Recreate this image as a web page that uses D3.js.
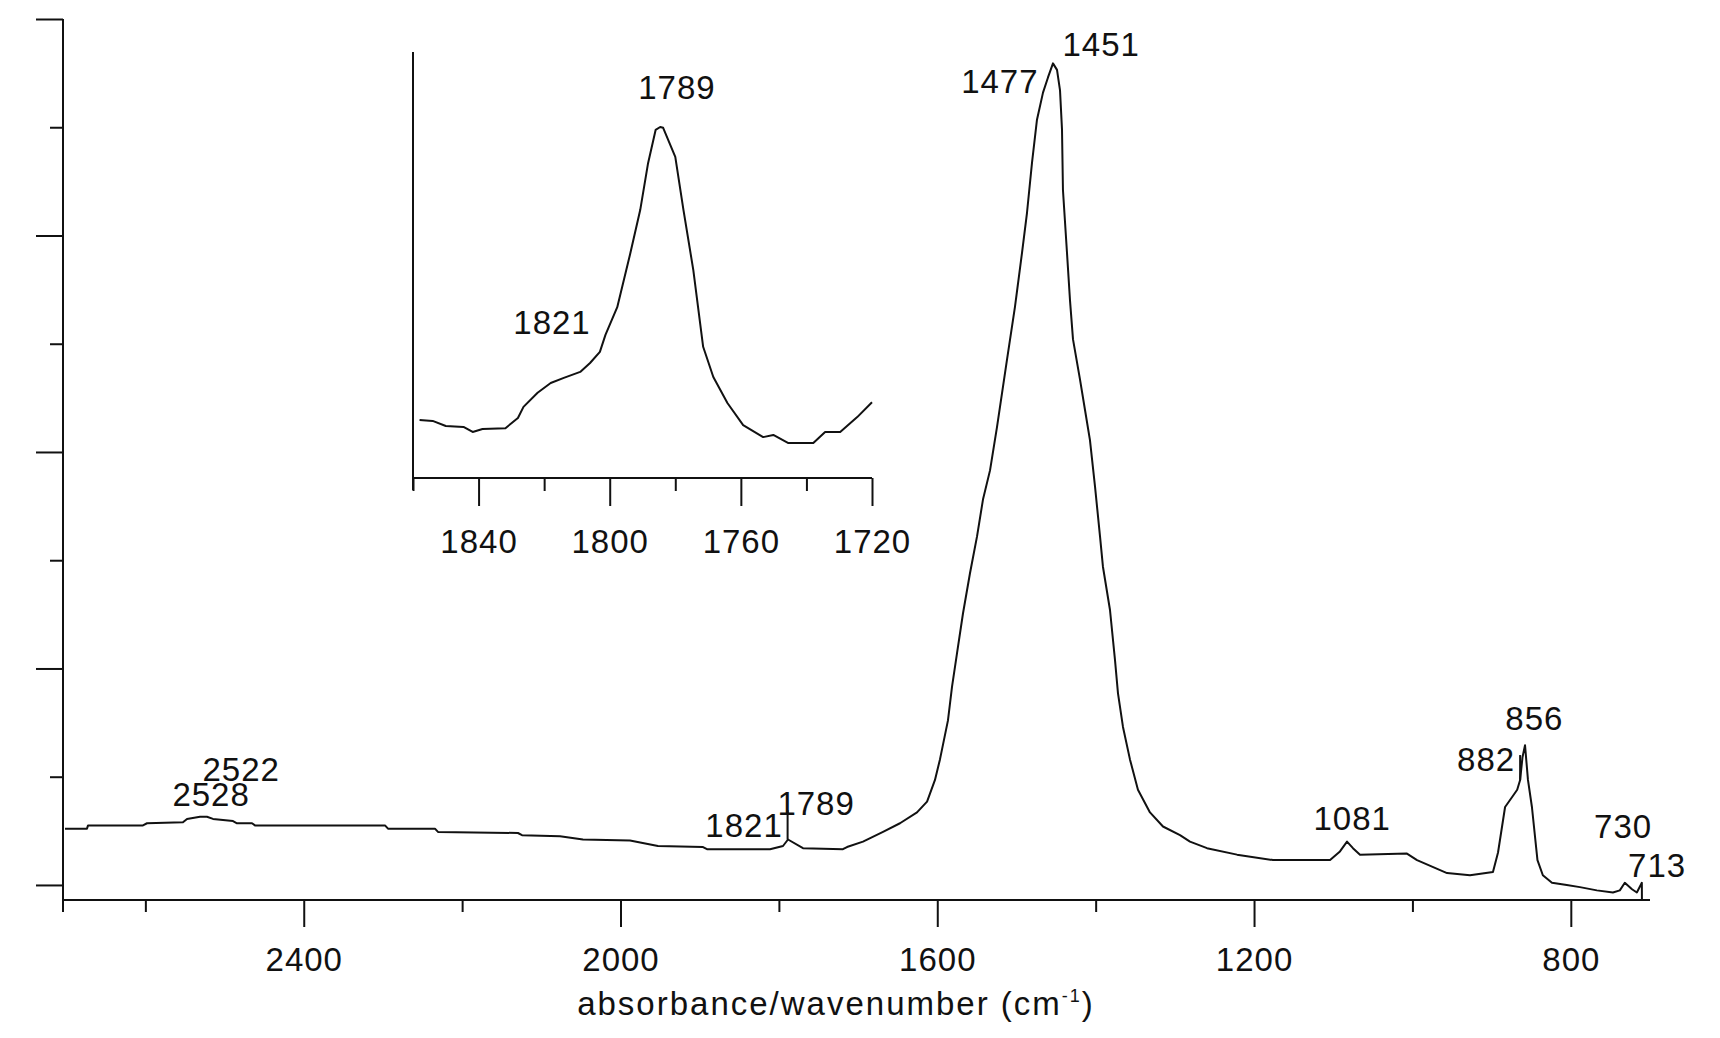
<!DOCTYPE html>
<html>
<head>
<meta charset="utf-8">
<script src="https://cdn.jsdelivr.net/npm/d3@7"></script>
<style>
  body { margin: 0; background: #fff; }
  text { font-family: "Liberation Sans", Arial, sans-serif; fill: #111; }
</style>
</head>
<body>
<script>
// main spectrum: wavenumber (cm-1) / absorbance (arb. units)
const wavenumber = [2701.5, 2673.7, 2672.4, 2603.0, 2597.9, 2552.5, 2547.4, 2531.0, 2522.2, 2514.6,
  2489.3, 2484.3, 2465.3, 2461.6, 2297.4, 2293.6, 2234.3, 2230.5, 2129.5, 2124.4,
  2076.4, 2047.4, 1988.0, 1952.7, 1895.8, 1890.8, 1811.2, 1794.8, 1788.5, 1769.6,
  1719.1, 1714.0, 1693.8, 1668.5, 1647.1, 1625.6, 1612.9, 1602.9, 1596.6, 1586.5,
  1581.4, 1575.1, 1567.5, 1558.7, 1549.8, 1542.3, 1533.4, 1524.6, 1512.0, 1501.9,
  1493.0, 1486.7, 1480.4, 1474.1, 1466.5, 1460.2, 1453.9, 1448.8, 1445.0, 1442.5,
  1441.3, 1436.2, 1432.4, 1428.6, 1419.8, 1413.5, 1407.2, 1400.8, 1394.5, 1390.8,
  1381.9, 1375.6, 1371.8, 1365.5, 1356.7, 1346.6, 1331.4, 1315.0, 1293.5, 1280.9,
  1259.4, 1221.5, 1176.1, 1104.0, 1091.5, 1082.6, 1075.1, 1066.2, 1006.9, 994.2,
  956.3, 927.3, 898.3, 891.9, 883.0, 874.3, 867.7, 864.0, 861.0, 857.8,
  854.1, 849.1, 842.1, 835.3, 823.8, 805.1, 788.5, 767.1, 746.8, 738.1,
  731.8, 722.7, 716.6, 710.3, 710.2];
const absorbance = [0.52, 0.52, 0.55, 0.55, 0.57, 0.58, 0.61, 0.63, 0.63, 0.61,
  0.59, 0.57, 0.57, 0.55, 0.55, 0.52, 0.52, 0.49, 0.48, 0.46,
  0.45, 0.42, 0.41, 0.36, 0.35, 0.33, 0.33, 0.36, 0.42, 0.34,
  0.33, 0.35, 0.40, 0.49, 0.57, 0.67, 0.77, 0.97, 1.16, 1.52,
  1.83, 2.14, 2.51, 2.88, 3.22, 3.56, 3.83, 4.23, 4.85, 5.34,
  5.84, 6.21, 6.67, 7.07, 7.32, 7.46, 7.59, 7.53, 7.34, 6.98,
  6.42, 5.84, 5.40, 5.04, 4.67, 4.39, 4.11, 3.68, 3.22, 2.94,
  2.54, 2.08, 1.77, 1.46, 1.16, 0.88, 0.67, 0.54, 0.46, 0.40,
  0.34, 0.28, 0.23, 0.23, 0.31, 0.40, 0.34, 0.28, 0.29, 0.23,
  0.11, 0.09, 0.12, 0.30, 0.72, 0.81, 0.88, 0.97, 1.18, 1.29,
  0.97, 0.72, 0.23, 0.09, 0.02, 0.00, -0.02, -0.05, -0.07, -0.05,
  0.02, -0.04, -0.07, 0.02, -0.14];

// inset: carbonate overtone region
const insetWavenumber = [1858.0, 1854.0, 1850.0, 1844.6, 1841.8, 1838.8, 1831.8, 1828.0, 1826.3, 1822.0,
  1818.0, 1814.0, 1809.0, 1806.0, 1803.0, 1801.3, 1797.7, 1793.7, 1790.7, 1788.3,
  1786.0, 1784.6, 1783.7, 1780.0, 1777.5, 1774.5, 1771.5, 1768.4, 1764.1, 1759.3,
  1753.2, 1750.1, 1745.5, 1737.9, 1734.3, 1729.7, 1724.5, 1720.0];
const insetAbsorbance = [1.36, 1.34, 1.22, 1.20, 1.08, 1.15, 1.17, 1.41, 1.67, 2.00,
  2.23, 2.35, 2.49, 2.70, 2.96, 3.36, 4.01, 5.28, 6.29, 7.39,
  8.17, 8.24, 8.22, 7.54, 6.29, 4.88, 3.08, 2.37, 1.76, 1.24,
  0.96, 1.01, 0.82, 0.82, 1.08, 1.08, 1.43, 1.78];

// ticks
const xTicksMajor = [2400, 2000, 1600, 1200, 800];
const xTicksMinor = [2600, 2200, 1800, 1400, 1000];
const yTicks = [0, 1, 2, 3, 4, 5, 6, 7, 8];
const insetTicksMajor = [1840, 1800, 1760, 1720];
const insetTicksMinor = [1860, 1820, 1780, 1740];

// peak annotations (anchored in data units)
const peakText = ["2522", "2528", "1821", "1789", "1477", "1451", "1081", "882", "856", "730", "713"];
const peakTextX = [2479, 2517, 1844, 1753, 1521, 1393, 1076, 907, 846, 734, 691];
const peakTextY = [1.07, 0.84, 0.55, 0.76, 7.43, 7.77, 0.62, 1.16, 1.54, 0.54, 0.18];
const markX = [1789, 864];
const markFrom = [0.42, 0.97];
const markTo = [0.69, 1.20];
const insetText = ["1789", "1821"];
const insetTextX = [1779.5, 1817.6];
const insetTextY = [9.18, 3.66];

const W = 1720, H = 1038;
const svg = d3.select("body").append("svg")
  .attr("width", W)
  .attr("height", H);

const x = d3.scaleLinear().domain([2704, 700]).range([63, 1650]);
const y = d3.scaleLinear().domain([-0.139, 8]).range([900, 19]);

const ink = "#111";
const fmt = d3.format("d");

// y axis (no labels)
const yAx = svg.append("g")
  .attr("transform", "translate(63,0)")
  .call(d3.axisLeft(y).tickValues(yTicks).tickSize(27).tickSizeOuter(0).tickFormat(""));
yAx.select(".domain").remove();
yAx.selectAll(".tick line")
  .attr("x2", d => d % 2 ? -13 : -27)
  .attr("stroke", ink).attr("stroke-width", 2);

// x axis, majors with labels
const xAx = svg.append("g")
  .attr("transform", "translate(0,900)")
  .call(d3.axisBottom(x).tickValues(xTicksMajor).tickSize(27).tickSizeOuter(0).tickPadding(21).tickFormat(fmt));
xAx.select(".domain").remove();
xAx.selectAll(".tick line").attr("stroke", ink).attr("stroke-width", 2);
xAx.selectAll(".tick text")
  .attr("font-size", 33)
  .attr("letter-spacing", 1)
  .attr("fill", ink);

const xMin = svg.append("g")
  .attr("transform", "translate(0,900)")
  .call(d3.axisBottom(x).tickValues(xTicksMinor).tickSize(12).tickSizeOuter(0).tickFormat(""));
xMin.select(".domain").remove();
xMin.selectAll(".tick line").attr("stroke", ink).attr("stroke-width", 2);

// axis lines
svg.append("line")
  .attr("x1", x(2704)).attr("x2", x(2704))
  .attr("y1", y(8)).attr("y2", y(-0.139) + 12)
  .attr("stroke", ink).attr("stroke-width", 2);
svg.append("line")
  .attr("x1", x(2704)).attr("x2", x(700))
  .attr("y1", y(-0.139)).attr("y2", y(-0.139))
  .attr("stroke", ink).attr("stroke-width", 2);

// axis title
const title = svg.append("text")
  .attr("x", 836)
  .attr("y", 1015)
  .attr("text-anchor", "middle")
  .attr("font-size", 33)
  .attr("letter-spacing", 2)
  .text("absorbance/wavenumber (cm");
title.append("tspan")
  .attr("font-size", 18)
  .attr("dy", -13)
  .text("-1");
title.append("tspan")
  .attr("dy", 13)
  .text(")");

// spectrum
const spec = wavenumber.map((w, i) => ({ w: w, a: absorbance[i] }));
svg.append("path")
  .datum(spec)
  .attr("fill", "none")
  .attr("stroke", ink)
  .attr("stroke-width", 2)
  .attr("stroke-linejoin", "round")
  .attr("d", d3.line().x(d => x(d.w)).y(d => y(d.a)));

// peak marker lines
svg.selectAll(".mark")
  .data(markX)
  .enter()
  .append("line")
  .attr("class", "mark")
  .attr("x1", d => x(d)).attr("x2", d => x(d))
  .attr("y1", (d, i) => y(markFrom[i]))
  .attr("y2", (d, i) => y(markTo[i]))
  .attr("stroke", ink).attr("stroke-width", 2);

svg.selectAll(".peak")
  .data(peakText)
  .enter()
  .append("text")
  .attr("class", "peak")
  .attr("x", (d, i) => x(peakTextX[i]))
  .attr("y", (d, i) => y(peakTextY[i]))
  .attr("dy", "0.36em")
  .attr("text-anchor", "middle")
  .attr("font-size", 33)
  .attr("letter-spacing", 1)
  .text(d => d);

// ---- inset ----
const xi = d3.scaleLinear().domain([1860, 1720]).range([413, 872]);
const yi = d3.scaleLinear().domain([0, 10]).range([478, 52]);

const xiAx = svg.append("g")
  .attr("transform", "translate(0,478)")
  .call(d3.axisBottom(xi).tickValues(insetTicksMajor).tickSize(28).tickSizeOuter(0).tickPadding(24).tickFormat(fmt));
xiAx.select(".domain").remove();
xiAx.selectAll(".tick line").attr("stroke", ink).attr("stroke-width", 2);
xiAx.selectAll(".tick text")
  .attr("font-size", 33)
  .attr("letter-spacing", 1)
  .attr("fill", ink);

const xiMin = svg.append("g")
  .attr("transform", "translate(0,478)")
  .call(d3.axisBottom(xi).tickValues(insetTicksMinor).tickSize(13).tickSizeOuter(0).tickFormat(""));
xiMin.select(".domain").remove();
xiMin.selectAll(".tick line").attr("stroke", ink).attr("stroke-width", 2);

svg.append("line")
  .attr("x1", xi(1860)).attr("x2", xi(1860))
  .attr("y1", yi(10)).attr("y2", yi(0) + 12)
  .attr("stroke", ink).attr("stroke-width", 2);
svg.append("line")
  .attr("x1", xi(1860)).attr("x2", xi(1720))
  .attr("y1", yi(0)).attr("y2", yi(0))
  .attr("stroke", ink).attr("stroke-width", 2);

const inset = insetWavenumber.map((w, i) => ({ w: w, a: insetAbsorbance[i] }));
svg.append("path")
  .datum(inset)
  .attr("fill", "none")
  .attr("stroke", ink)
  .attr("stroke-width", 2)
  .attr("stroke-linejoin", "round")
  .attr("d", d3.line().x(d => xi(d.w)).y(d => yi(d.a)));

svg.selectAll(".ipeak")
  .data(insetText)
  .enter()
  .append("text")
  .attr("class", "ipeak")
  .attr("x", (d, i) => xi(insetTextX[i]))
  .attr("y", (d, i) => yi(insetTextY[i]))
  .attr("dy", "0.36em")
  .attr("text-anchor", "middle")
  .attr("font-size", 33)
  .attr("letter-spacing", 1)
  .text(d => d);
</script>
</body>
</html>
